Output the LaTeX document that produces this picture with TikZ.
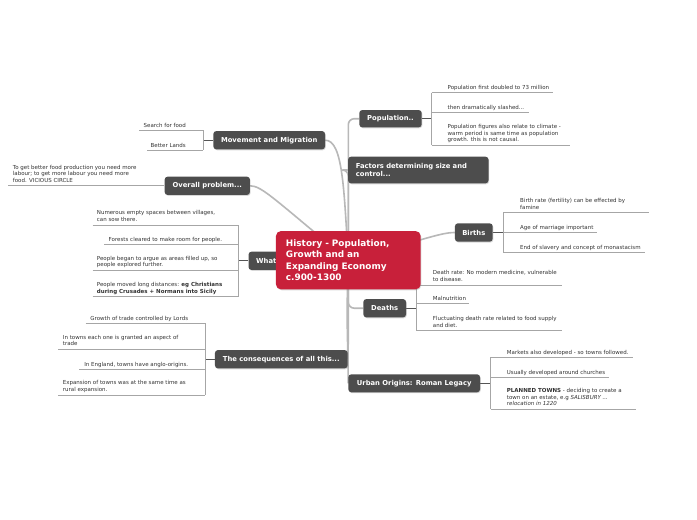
\documentclass[tikz,border=0pt]{standalone}
\usepackage{fontspec}
\setmainfont{DejaVu Sans}
\usetikzlibrary{shadows}
\definecolor{topicgray}{HTML}{4D4D4D}
\definecolor{centralred}{HTML}{C8203A}
\definecolor{trunkgray}{HTML}{B8B8B8}
\definecolor{stemgray}{HTML}{555555}
\definecolor{linegray}{HTML}{A6A6A6}
\definecolor{leaftext}{HTML}{333333}
\pgfdeclarelayer{bglayer}
\pgfdeclarelayer{connlayer}
\pgfsetlayers{bglayer,connlayer,main}
\begin{document}
\begin{tikzpicture}[x=1pt,y=-1pt,
 topic/.style={fill=topicgray, text=white, rounded corners=3pt, inner sep=0pt,
   font=\fontsize{6.8}{8}\selectfont\bfseries, align=center,
   drop shadow={shadow xshift=0.7pt, shadow yshift=-0.9pt, opacity=0.3}},
 centralbox/.style={fill=centralred, text=white, rounded corners=5pt, inner xsep=10pt, inner ysep=0pt,
   align=left, font=\fontsize{8.9}{11.5}\selectfont\bfseries,
   drop shadow={shadow xshift=0.7pt, shadow yshift=-0.9pt, opacity=0.3}},
 leaf/.style={inner sep=0pt, text=leaftext, font=\fontsize{5.5}{6.7}\selectfont, align=left,
   execute at begin node=\strut, yshift=-1.2pt},
 trunk/.style={draw=trunkgray, line width=1.6pt, rounded corners=6pt},
 stem/.style={draw=stemgray, line width=1.2pt},
 uline/.style={draw=linegray, line width=0.8pt},
]
\begin{pgfonlayer}{bglayer}
\fill[white] (0,0) rectangle (697,520);
\end{pgfonlayer}
\useasboundingbox (0,0) rectangle (697,520);

\coordinate (cenC) at (348.3,260.2);

% ---------- topic nodes ----------
\path node[topic, minimum width=62.4pt, minimum height=17.3pt] (pop) at (390.5,118.7) {Population..}
      node[topic, minimum height=26.7pt, text width=125pt, inner xsep=7.7pt, align=left] (fac) at (418.3,170) {Factors determining size and\\control...}
      node[topic, minimum width=37.7pt, minimum height=18.4pt] (bir) at (473.8,232.5) {Births}
      node[topic, minimum width=42.7pt, minimum height=18.3pt] (dea) at (384.7,308.2) {Deaths}
      node[topic, minimum width=131.7pt, minimum height=18pt] (urb) at (414.2,383.3) {Urban Origins: Roman Legacy}
      node[topic, minimum width=111.7pt, minimum height=18.3pt] (mov) at (269.2,140.2) {Movement and Migration}
      node[topic, minimum width=85.3pt, minimum height=18.3pt] (ove) at (207.3,185.8) {Overall problem...}
      node[topic, minimum width=132.7pt, minimum height=18.3pt] (con) at (281.3,359.2) {The consequences of all this...}
      node[topic, anchor=west, minimum height=18.3pt, inner xsep=7.7pt] (wha) at (248.3,260.8) {What...}
      node[centralbox, text width=124.7pt, minimum height=58.3pt] (cen) at (cenC) {History - Population,\\Growth and an\\Expanding Economy\\c.900-1300};

% ---------- main connectors ----------
\begin{pgfonlayer}{connlayer}
\draw[trunk] (cen.center) |- (pop.west);
\draw[trunk] (cen.center) |- (fac.west);
\draw[trunk] (cen.center) |- (dea.west);
\draw[trunk] (cen.center) -- (urb.west);
\draw[trunk] (cen.center) .. controls (344,190) and (343,140.2) .. (mov.east);
\draw[trunk] (cen.center) .. controls (346,320) and (348,345) .. (con.east);
\draw[trunk] (cen.center) .. controls (275,200) and (262,185.8) .. (ove.east);
\draw[trunk] (cen.center) .. controls (420,241) and (440,232.5) .. (bir.west);
\draw[trunk] (cen.center) -- (wha.center);

% ---------- bracket points ----------
\coordinate (popB) at (431.5,118.7);
\coordinate (birB) at (503.3,232.5);
\coordinate (deaB) at (416.7,308.2);
\coordinate (urbB) at (490.7,383.3);
\coordinate (movB) at (203.3,140.2);
\coordinate (whaB) at (238.7,260.8);
\coordinate (conB) at (205,359.2);

\draw[stem] (pop.east) -- (popB);
\draw[stem] (bir.east) -- (birB);
\draw[stem] (dea.east) -- (deaB);
\draw[stem] (urb.east) -- (urbB);
\draw[stem] (mov.west) -- (movB);
\draw[stem] (wha.west) -- (whaB);
\draw[stem] (con.west) -- (conB);

% Population
\draw[uline] (431.5,92.7) -- (431.5,145.3);
\draw[uline] (431.5,92.7) -- (553,92.7);
\draw[uline] (431.5,112.7) -- (529,112.7);
\draw[uline] (431.5,145.3) -- (570,145.3);
% Births
\draw[uline] (503.3,212.7) -- (503.3,252);
\draw[uline] (503.3,212.7) -- (649,212.7);
\draw[uline] (503.3,232.3) -- (597,232.3);
\draw[uline] (503.3,252) -- (645,252);
% Deaths
\draw[uline] (416.7,285) -- (416.7,330.7);
\draw[uline] (416.7,285) -- (561.7,285);
\draw[uline] (416.7,303.3) -- (469,303.3);
\draw[uline] (416.7,330.7) -- (561.7,330.7);
% Urban
\draw[uline] (490.7,357.3) -- (490.7,409.3);
\draw[uline] (490.7,357.3) -- (633,357.3);
\draw[uline] (490.7,377.3) -- (609,377.3);
\draw[uline] (490.7,409.3) -- (636,409.3);
% Movement
\draw[uline] (203.3,130) -- (203.3,150);
\draw[uline] (139.3,130) -- (203.3,130);
\draw[uline] (147.3,150) -- (203.3,150);
% Overall
\draw[uline] (8.3,185.8) -- (ove.west);
% What
\draw[uline] (238.7,225) -- (238.7,296.7);
\draw[uline] (92.7,225) -- (238.7,225);
\draw[uline] (104,244) -- (238.7,244);
\draw[uline] (92.7,270.3) -- (238.7,270.3);
\draw[uline] (92.7,296.7) -- (238.7,296.7);
% Consequences
\draw[uline] (205,323.3) -- (205,395);
\draw[uline] (85.7,323.3) -- (205,323.3);
\draw[uline] (58.3,349.3) -- (205,349.3);
\draw[uline] (79.3,369.3) -- (205,369.3);
\draw[uline] (58.3,395) -- (205,395);
\end{pgfonlayer}

% ---------- leaves ----------
\node[leaf, anchor=north west] (p1) at (447.5,83.7) {Population first doubled to 73 million};
\node[leaf, anchor=north west] (p2) at (447.5,103.7) {then dramatically slashed...};
\node[leaf, anchor=north west] (p3) at (447.5,122.9) {Population figures also relate to climate -\\warm period is same time as population\\growth. this is not causal.};

\node[leaf, anchor=north west] (b1) at (520,197) {Birth rate (fertility) can be effected by\\famine};
\node[leaf, anchor=north west] (b2) at (520,223.3) {Age of marriage important};
\node[leaf, anchor=north west] (b3) at (520,243) {End of slavery and concept of monastacism};

\node[leaf, anchor=north west] (d1) at (432.7,269.3) {Death rate: No modern medicine, vulnerable\\to disease.};
\node[leaf, anchor=north west] (d2) at (432.7,294.3) {Malnutrition};
\node[leaf, anchor=north west] (d3) at (432.7,315) {Fluctuating death rate related to food supply\\and diet.};

\node[leaf, anchor=north west] (u1) at (506.7,348.3) {Markets also developed - so towns followed.};
\node[leaf, anchor=north west] (u2) at (506.7,368.3) {Usually developed around churches};
\node[leaf, anchor=north west] (u3) at (506.7,386.9) {\textbf{PLANNED TOWNS} - deciding to create a\\town on an estate, e.g \textit{SALISBURY ...}\\\textit{relocation in 1220}};

\node[leaf, anchor=north east] (m1) at (186,121) {Search for food};
\node[leaf, anchor=north east] (m2) at (186,141) {Better Lands};

\node[leaf, anchor=north west] (o1) at (12.7,163.6) {To get better food production you need more\\labour; to get more labour you need more\\food. VICIOUS CIRCLE};

\node[leaf, anchor=north west] (w1) at (96.7,209.3) {Numerous empty spaces between villages,\\can sow there.};
\node[leaf, anchor=north east] (w2) at (222.3,235) {Forests cleared to make room for people.};
\node[leaf, anchor=north west] (w3) at (96.7,254.6) {People began to argue as areas filled up, so\\people explored further.};
\node[leaf, anchor=north west] (w4) at (96.7,281) {People moved long distances: \textbf{eg Christians}\\\textbf{during Crusades + Normans into Sicily}};

\node[leaf, anchor=north east] (c1) at (188.3,314.3) {Growth of trade controlled by Lords};
\node[leaf, anchor=north west] (c2) at (62.7,333.6) {In towns each one is granted an aspect of\\trade};
\node[leaf, anchor=north east] (c3) at (188.3,360.3) {In England, towns have anglo-origins.};
\node[leaf, anchor=north west] (c4) at (62.7,379.3) {Expansion of towns was at the same time as\\rural expansion.};
\end{tikzpicture}
\end{document}
